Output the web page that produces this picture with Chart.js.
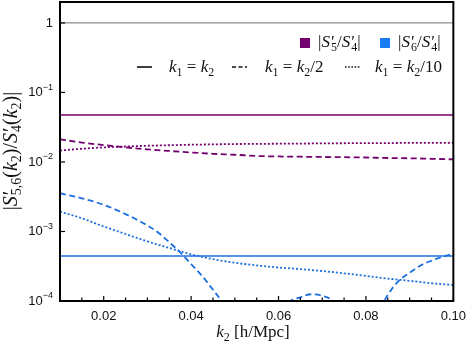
<!DOCTYPE html>
<html>
<head>
<meta charset="utf-8">
<script src="https://cdn.jsdelivr.net/npm/chart.js@4.4.1/dist/chart.umd.min.js"></script>
<style>
  body { margin: 0; background: #fff; }
  canvas { display: block; }
</style>
</head>
<body>
<canvas id="ratioChart" width="474" height="348"></canvas>
<script>
// k2 values [h/Mpc]
const kEnds = [0.01, 0.1];
const kGrid = [0.010, 0.015, 0.020, 0.025, 0.030, 0.035, 0.040, 0.045, 0.050, 0.055,
               0.060, 0.065, 0.070, 0.075, 0.080, 0.085, 0.090, 0.095, 0.100];
const kS6Half = [0.010, 0.015, 0.020, 0.025, 0.030, 0.0325, 0.035, 0.0375, 0.040, 0.0425,
                 0.045, 0.0475, 0.050, 0.055, 0.060, 0.0625, 0.065, 0.0675, 0.070, 0.0725,
                 0.075, 0.080, 0.0825, 0.085, 0.0875, 0.090, 0.0925, 0.095, 0.0975, 0.100];

// reference line |S'4/S'4| = 1
const s4Ref = [1, 1];

// |S'5/S'4|
const s5Equal = [0.0474, 0.0474];
const s5Half = [0.0212, 0.0190, 0.0175, 0.0162, 0.0152, 0.0144, 0.0137, 0.0131, 0.0127, 0.0122,
                0.0120, 0.0119, 0.0118, 0.0117, 0.0116, 0.0114, 0.0113, 0.0111, 0.0109];
const s5Tenth = [0.0146, 0.0155, 0.0162, 0.0167, 0.0171, 0.0174, 0.0177, 0.0179, 0.0181, 0.0182,
                 0.0183, 0.0184, 0.0185, 0.0186, 0.0187, 0.0187, 0.0188, 0.0188, 0.0189];

// |S'6/S'4|
const s6Equal = [4.45e-4, 4.45e-4];
const s6Half = [3.55e-3, 3.0e-3, 2.42e-3, 1.78e-3, 1.22e-3, 9.6e-4, 7.0e-4, 5.0e-4, 3.4e-4, 2.3e-4,
                1.45e-4, 9.0e-5, 5.0e-5, 1.5e-5, 5.0e-5, 9.6e-5, 1.13e-4, 1.25e-4, 1.19e-4, 1.01e-4,
                7.0e-5, 2.0e-5, 6.0e-5, 1.22e-4, 1.95e-4, 2.55e-4, 3.25e-4, 3.8e-4, 4.3e-4, 4.8e-4];
const s6Tenth = [1.93e-3, 1.55e-3, 1.18e-3, 9.2e-4, 7.2e-4, 5.8e-4, 4.7e-4, 4.0e-4, 3.55e-4, 3.25e-4,
                 3.03e-4, 2.88e-4, 2.7e-4, 2.5e-4, 2.3e-4, 2.1e-4, 1.95e-4, 1.8e-4, 1.7e-4];

const yDecades = [1e-4, 1e-3, 1e-2, 1e-1, 1];

const PURPLE = '#74006f';
const BLUE = '#1c6fe0';
const DASH = [6, 3.5];
const DOT = [2, 2];
const SERIF = '"Liberation Serif", "Times New Roman", serif';
const SANS = '"Liberation Sans", Arial, sans-serif';

let pts = (xs, ys) => xs.map((x, i) => ({ x: x, y: ys[i] }));

let line = (data, color, dash, width) => ({
  data: data,
  borderColor: color,
  borderWidth: width || 1.6,
  borderDash: dash || [],
  pointRadius: 0,
  fill: false,
  cubicInterpolationMode: 'monotone'
});

// draw math-like text in pieces: [text, kind] with kind r / i / sub / pr
function richText(ctx, parts, x, y, size, align) {
  let items = [];
  let w = 0;
  for (const [t, kind] of parts) {
    let fs = size, dy = 0, style = '';
    if (kind === 'i') style = 'italic ';
    if (kind === 'sub') { fs = Math.round(size * 0.7); dy = size * 0.22; }
    if (kind === 'pr') { w += 1; }
    ctx.font = style + fs + 'px ' + SERIF;
    let tw = ctx.measureText(t).width;
    items.push({ t: t, font: ctx.font, x: w, dy: dy });
    if (kind !== 'pr') w += tw;
  }
  let x0 = align === 'center' ? x - w / 2 : x;
  ctx.textBaseline = 'alphabetic';
  ctx.textAlign = 'left';
  items.forEach(it => {
    ctx.font = it.font;
    ctx.fillText(it.t, x0 + it.x, y + it.dy);
  });
  return w;
}

const decorPlugin = {
  id: 'decor',
  afterDraw(chart) {
    const ctx = chart.ctx;
    const area = chart.chartArea;
    const xs = chart.scales.x;
    const ys = chart.scales.y;
    ctx.save();
    ctx.fillStyle = '#111';
    ctx.strokeStyle = '#000';

    // inward ticks
    ctx.lineWidth = 1.2;
    xs.ticks.forEach(t => {
      const px = xs.getPixelForValue(t.value);
      const major = Math.round(t.value * 1000) % 20 === 0;
      const len = major ? 5 : 3.5;
      ctx.beginPath();
      ctx.moveTo(px, area.bottom);
      ctx.lineTo(px, area.bottom - len);
      ctx.stroke();
    });
    yDecades.forEach(v => {
      const py = ys.getPixelForValue(v);
      ctx.beginPath();
      ctx.moveTo(area.left, py);
      ctx.lineTo(area.left + 5, py);
      ctx.stroke();
    });

    // frame
    ctx.lineWidth = 2;
    ctx.strokeRect(area.left, area.top, area.right - area.left, area.bottom - area.top);

    // y tick labels 10^n
    ctx.textBaseline = 'middle';
    ctx.textAlign = 'right';
    yDecades.forEach(v => {
      const py = ys.getPixelForValue(v);
      const n = Math.round(Math.log10(v));
      const right = area.left - 7;
      if (n === 0) {
        ctx.font = '13px ' + SANS;
        ctx.fillText('1', right, py);
      } else {
        const ex = '\u2212' + Math.abs(n);
        ctx.font = '9px ' + SANS;
        const ew = ctx.measureText(ex).width;
        ctx.fillText(ex, right, py - 5);
        ctx.font = '13px ' + SANS;
        ctx.fillText('10', right - ew, py);
      }
    });

    // axis titles
    ctx.fillStyle = '#111';
    richText(ctx, [['k', 'i'], ['2', 'sub'], [' [h/Mpc]', 'r']], 253, 337, 17, 'center');
    ctx.save();
    ctx.translate(17, 151);
    ctx.rotate(-Math.PI / 2);
    richText(ctx, [['|', 'r'], ['S', 'i'], ['\u2032', 'pr'], ['5,6', 'sub'], ['(', 'r'], ['k', 'i'], ['2', 'sub'],
                   [')', 'r'], ['/', 'r'], ['S', 'i'], ['\u2032', 'pr'], ['4', 'sub'], ['(', 'r'], ['k', 'i'],
                   ['2', 'sub'], [')', 'r'], ['|', 'r']], 0, 0, 20, 'center');
    ctx.restore();

    // legend row 1: colours
    ctx.fillStyle = PURPLE;
    ctx.fillRect(300, 38, 10, 10);
    ctx.fillStyle = '#1a7cf2';
    ctx.fillRect(380, 38, 10, 10);
    ctx.fillStyle = '#111';
    richText(ctx, [['|', 'r'], ['S', 'i'], ['\u2032', 'pr'], ['5', 'sub'], ['/', 'r'], ['S', 'i'], ['\u2032', 'pr'],
                   ['4', 'sub'], ['|', 'r']], 318, 47, 17, 'left');
    richText(ctx, [['|', 'r'], ['S', 'i'], ['\u2032', 'pr'], ['6', 'sub'], ['/', 'r'], ['S', 'i'], ['\u2032', 'pr'],
                   ['4', 'sub'], ['|', 'r']], 398, 47, 17, 'left');

    // legend row 2: line styles
    const samples = [
      { x: 137, dash: [], parts: [['k', 'i'], ['1', 'sub'], [' = ', 'r'], ['k', 'i'], ['2', 'sub']], tx: 169 },
      { x: 232, dash: [4, 2.5], parts: [['k', 'i'], ['1', 'sub'], [' = ', 'r'], ['k', 'i'], ['2', 'sub'], ['/2', 'r']], tx: 265 },
      { x: 345, dash: [1.6, 1.6], parts: [['k', 'i'], ['1', 'sub'], [' = ', 'r'], ['k', 'i'], ['2', 'sub'], ['/10', 'r']], tx: 375 }
    ];
    samples.forEach(s => {
      ctx.strokeStyle = '#111';
      ctx.lineWidth = 1.6;
      ctx.setLineDash(s.dash);
      ctx.beginPath();
      ctx.moveTo(s.x, 67);
      ctx.lineTo(s.x + 15, 67);
      ctx.stroke();
      ctx.setLineDash([]);
      richText(ctx, s.parts, s.tx, 72, 17, 'left');
    });
    ctx.restore();
  }
};

const config = {
  type: 'line',
  data: {
    datasets: [
      line(pts(kEnds, s4Ref), '#8c8c8c', [], 1.3),
      line(pts(kEnds, s5Equal), PURPLE),
      line(pts(kGrid, s5Half), PURPLE, DASH, 1.8),
      line(pts(kGrid, s5Tenth), PURPLE, DOT, 1.8),
      line(pts(kEnds, s6Equal), BLUE),
      line(pts(kS6Half, s6Half), BLUE, DASH, 1.8),
      line(pts(kGrid, s6Tenth), BLUE, DOT, 1.8)
    ]
  },
  options: {
    responsive: false,
    animation: false,
    devicePixelRatio: 1,
    layout: { padding: { top: 2, right: 14, left: 0, bottom: 0 } },
    plugins: { legend: { display: false }, tooltip: { enabled: false } },
    scales: {
      x: {
        type: 'linear',
        min: 0.01,
        max: 0.1,
        afterFit: (s) => { s.height = 47; },
        grid: { display: false, drawTicks: false },
        border: { display: false },
        ticks: {
          stepSize: 0.005,
          autoSkip: false,
          maxRotation: 0,
          padding: 8,
          color: '#111',
          font: { family: 'Liberation Sans', size: 13 },
          callback: (v) => {
            const r = Math.round(v * 1000);
            return r % 20 === 0 ? (r / 1000).toFixed(2) : '';
          }
        }
      },
      y: {
        type: 'logarithmic',
        min: 1e-4,
        max: 2,
        afterFit: (s) => { s.width = 60; },
        grid: { display: false },
        border: { display: false },
        ticks: { display: false }
      }
    }
  },
  plugins: [decorPlugin]
};

const chart = new Chart(document.getElementById('ratioChart'), config);
</script>
</body>
</html>
